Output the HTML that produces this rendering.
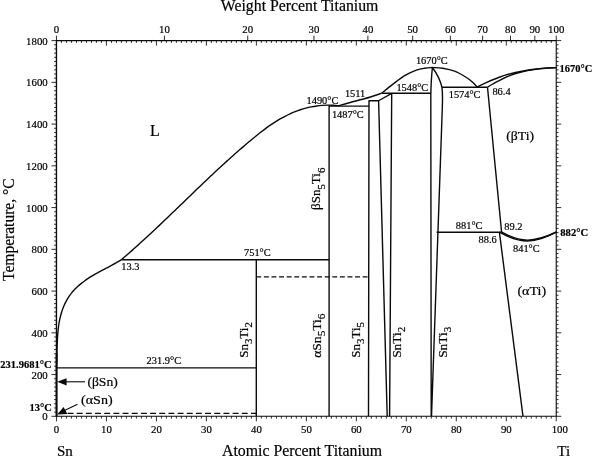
<!DOCTYPE html>
<html lang="en"><head><meta charset="utf-8"><title>Sn-Ti Phase Diagram</title>
<style>html,body{margin:0;padding:0;background:#fff;overflow:hidden}svg{display:block}text{font-family:"Liberation Serif","DejaVu Serif",serif;fill:#000;stroke:#000;stroke-width:0.2px}</style>
</head><body>
<svg width="592" height="457" viewBox="0 0 592 457">
<rect width="592" height="457" fill="#fff"/>
<g stroke="#0a0a0a" fill="none">
<path d="M56.45 40.10V416.80" stroke-width="1.35"/>
<path d="M56.60 353.68V416.80" stroke-width="1.9"/>
<path d="M56.45 40.60H556.25V416.30H56.45" stroke-width="1.1"/>
<path d="M56.45 416.30v5.00M61.45 416.30v2.30M61.45 40.60v2.30M66.45 416.30v2.30M66.45 40.60v2.30M71.44 416.30v2.30M71.44 40.60v2.30M76.44 416.30v2.30M76.44 40.60v2.30M81.44 416.30v2.30M81.44 40.60v2.30M86.44 416.30v2.30M86.44 40.60v2.30M91.44 416.30v2.30M91.44 40.60v2.30M96.43 416.30v2.30M96.43 40.60v2.30M101.43 416.30v2.30M101.43 40.60v2.30M106.43 416.30v5.00M106.43 40.60v5.00M111.43 416.30v2.30M111.43 40.60v2.30M116.43 416.30v2.30M116.43 40.60v2.30M121.42 416.30v2.30M121.42 40.60v2.30M126.42 416.30v2.30M126.42 40.60v2.30M131.42 416.30v2.30M131.42 40.60v2.30M136.42 416.30v2.30M136.42 40.60v2.30M141.42 416.30v2.30M141.42 40.60v2.30M146.41 416.30v2.30M146.41 40.60v2.30M151.41 416.30v2.30M151.41 40.60v2.30M156.41 416.30v5.00M156.41 40.60v5.00M161.41 416.30v2.30M161.41 40.60v2.30M166.41 416.30v2.30M166.41 40.60v2.30M171.40 416.30v2.30M171.40 40.60v2.30M176.40 416.30v2.30M176.40 40.60v2.30M181.40 416.30v2.30M181.40 40.60v2.30M186.40 416.30v2.30M186.40 40.60v2.30M191.40 416.30v2.30M191.40 40.60v2.30M196.39 416.30v2.30M196.39 40.60v2.30M201.39 416.30v2.30M201.39 40.60v2.30M206.39 416.30v5.00M206.39 40.60v5.00M211.39 416.30v2.30M211.39 40.60v2.30M216.39 416.30v2.30M216.39 40.60v2.30M221.38 416.30v2.30M221.38 40.60v2.30M226.38 416.30v2.30M226.38 40.60v2.30M231.38 416.30v2.30M231.38 40.60v2.30M236.38 416.30v2.30M236.38 40.60v2.30M241.38 416.30v2.30M241.38 40.60v2.30M246.37 416.30v2.30M246.37 40.60v2.30M251.37 416.30v2.30M251.37 40.60v2.30M256.37 416.30v5.00M256.37 40.60v5.00M261.37 416.30v2.30M261.37 40.60v2.30M266.37 416.30v2.30M266.37 40.60v2.30M271.36 416.30v2.30M271.36 40.60v2.30M276.36 416.30v2.30M276.36 40.60v2.30M281.36 416.30v2.30M281.36 40.60v2.30M286.36 416.30v2.30M286.36 40.60v2.30M291.36 416.30v2.30M291.36 40.60v2.30M296.35 416.30v2.30M296.35 40.60v2.30M301.35 416.30v2.30M301.35 40.60v2.30M306.35 416.30v5.00M306.35 40.60v5.00M311.35 416.30v2.30M311.35 40.60v2.30M316.35 416.30v2.30M316.35 40.60v2.30M321.34 416.30v2.30M321.34 40.60v2.30M326.34 416.30v2.30M326.34 40.60v2.30M331.34 416.30v2.30M331.34 40.60v2.30M336.34 416.30v2.30M336.34 40.60v2.30M341.34 416.30v2.30M341.34 40.60v2.30M346.33 416.30v2.30M346.33 40.60v2.30M351.33 416.30v2.30M351.33 40.60v2.30M356.33 416.30v5.00M356.33 40.60v5.00M361.33 416.30v2.30M361.33 40.60v2.30M366.33 416.30v2.30M366.33 40.60v2.30M371.32 416.30v2.30M371.32 40.60v2.30M376.32 416.30v2.30M376.32 40.60v2.30M381.32 416.30v2.30M381.32 40.60v2.30M386.32 416.30v2.30M386.32 40.60v2.30M391.32 416.30v2.30M391.32 40.60v2.30M396.31 416.30v2.30M396.31 40.60v2.30M401.31 416.30v2.30M401.31 40.60v2.30M406.31 416.30v5.00M406.31 40.60v5.00M411.31 416.30v2.30M411.31 40.60v2.30M416.31 416.30v2.30M416.31 40.60v2.30M421.30 416.30v2.30M421.30 40.60v2.30M426.30 416.30v2.30M426.30 40.60v2.30M431.30 416.30v2.30M431.30 40.60v2.30M436.30 416.30v2.30M436.30 40.60v2.30M441.30 416.30v2.30M441.30 40.60v2.30M446.29 416.30v2.30M446.29 40.60v2.30M451.29 416.30v2.30M451.29 40.60v2.30M456.29 416.30v5.00M456.29 40.60v5.00M461.29 416.30v2.30M461.29 40.60v2.30M466.29 416.30v2.30M466.29 40.60v2.30M471.28 416.30v2.30M471.28 40.60v2.30M476.28 416.30v2.30M476.28 40.60v2.30M481.28 416.30v2.30M481.28 40.60v2.30M486.28 416.30v2.30M486.28 40.60v2.30M491.28 416.30v2.30M491.28 40.60v2.30M496.27 416.30v2.30M496.27 40.60v2.30M501.27 416.30v2.30M501.27 40.60v2.30M506.27 416.30v5.00M506.27 40.60v5.00M511.27 416.30v2.30M511.27 40.60v2.30M516.27 416.30v2.30M516.27 40.60v2.30M521.26 416.30v2.30M521.26 40.60v2.30M526.26 416.30v2.30M526.26 40.60v2.30M531.26 416.30v2.30M531.26 40.60v2.30M536.26 416.30v2.30M536.26 40.60v2.30M541.26 416.30v2.30M541.26 40.60v2.30M546.25 416.30v2.30M546.25 40.60v2.30M551.25 416.30v2.30M551.25 40.60v2.30M556.25 416.30v5.00M56.45 40.60v-5.00M164.42 40.60v-5.00M247.73 40.60v-5.00M313.96 40.60v-5.00M367.88 40.60v-5.00M412.63 40.60v-5.00M450.36 40.60v-5.00M482.61 40.60v-5.00M510.48 40.60v-5.00M534.82 40.60v-5.00M556.25 40.60v-5.00M56.45 416.30h-5.00M556.25 416.30h5.00M56.45 412.13h-2.30M556.25 412.13h2.30M56.45 407.95h-2.30M556.25 407.95h2.30M56.45 403.78h-2.30M556.25 403.78h2.30M56.45 399.60h-2.30M556.25 399.60h2.30M56.45 395.43h-2.30M556.25 395.43h2.30M56.45 391.25h-2.30M556.25 391.25h2.30M56.45 387.08h-2.30M556.25 387.08h2.30M56.45 382.90h-2.30M556.25 382.90h2.30M56.45 378.73h-2.30M556.25 378.73h2.30M56.45 374.56h-5.00M556.25 374.56h5.00M56.45 370.38h-2.30M556.25 370.38h2.30M56.45 366.21h-2.30M556.25 366.21h2.30M56.45 362.03h-2.30M556.25 362.03h2.30M56.45 357.86h-2.30M556.25 357.86h2.30M56.45 353.68h-2.30M556.25 353.68h2.30M56.45 349.51h-2.30M556.25 349.51h2.30M56.45 345.33h-2.30M556.25 345.33h2.30M56.45 341.16h-2.30M556.25 341.16h2.30M56.45 336.99h-2.30M556.25 336.99h2.30M56.45 332.81h-5.00M556.25 332.81h5.00M56.45 328.64h-2.30M556.25 328.64h2.30M56.45 324.46h-2.30M556.25 324.46h2.30M56.45 320.29h-2.30M556.25 320.29h2.30M56.45 316.11h-2.30M556.25 316.11h2.30M56.45 311.94h-2.30M556.25 311.94h2.30M56.45 307.76h-2.30M556.25 307.76h2.30M56.45 303.59h-2.30M556.25 303.59h2.30M56.45 299.42h-2.30M556.25 299.42h2.30M56.45 295.24h-2.30M556.25 295.24h2.30M56.45 291.07h-5.00M556.25 291.07h5.00M56.45 286.89h-2.30M556.25 286.89h2.30M56.45 282.72h-2.30M556.25 282.72h2.30M56.45 278.54h-2.30M556.25 278.54h2.30M56.45 274.37h-2.30M556.25 274.37h2.30M56.45 270.19h-2.30M556.25 270.19h2.30M56.45 266.02h-2.30M556.25 266.02h2.30M56.45 261.85h-2.30M556.25 261.85h2.30M56.45 257.67h-2.30M556.25 257.67h2.30M56.45 253.50h-2.30M556.25 253.50h2.30M56.45 249.32h-5.00M556.25 249.32h5.00M56.45 245.15h-2.30M556.25 245.15h2.30M56.45 240.97h-2.30M556.25 240.97h2.30M56.45 236.80h-2.30M556.25 236.80h2.30M56.45 232.62h-2.30M556.25 232.62h2.30M56.45 228.45h-2.30M556.25 228.45h2.30M56.45 224.28h-2.30M556.25 224.28h2.30M56.45 220.10h-2.30M556.25 220.10h2.30M56.45 215.93h-2.30M556.25 215.93h2.30M56.45 211.75h-2.30M556.25 211.75h2.30M56.45 207.58h-5.00M556.25 207.58h5.00M56.45 203.40h-2.30M556.25 203.40h2.30M56.45 199.23h-2.30M556.25 199.23h2.30M56.45 195.05h-2.30M556.25 195.05h2.30M56.45 190.88h-2.30M556.25 190.88h2.30M56.45 186.71h-2.30M556.25 186.71h2.30M56.45 182.53h-2.30M556.25 182.53h2.30M56.45 178.36h-2.30M556.25 178.36h2.30M56.45 174.18h-2.30M556.25 174.18h2.30M56.45 170.01h-2.30M556.25 170.01h2.30M56.45 165.83h-5.00M556.25 165.83h5.00M56.45 161.66h-2.30M556.25 161.66h2.30M56.45 157.48h-2.30M556.25 157.48h2.30M56.45 153.31h-2.30M556.25 153.31h2.30M56.45 149.14h-2.30M556.25 149.14h2.30M56.45 144.96h-2.30M556.25 144.96h2.30M56.45 140.79h-2.30M556.25 140.79h2.30M56.45 136.61h-2.30M556.25 136.61h2.30M56.45 132.44h-2.30M556.25 132.44h2.30M56.45 128.26h-2.30M556.25 128.26h2.30M56.45 124.09h-5.00M556.25 124.09h5.00M56.45 119.91h-2.30M556.25 119.91h2.30M56.45 115.74h-2.30M556.25 115.74h2.30M56.45 111.57h-2.30M556.25 111.57h2.30M56.45 107.39h-2.30M556.25 107.39h2.30M56.45 103.22h-2.30M556.25 103.22h2.30M56.45 99.04h-2.30M556.25 99.04h2.30M56.45 94.87h-2.30M556.25 94.87h2.30M56.45 90.69h-2.30M556.25 90.69h2.30M56.45 86.52h-2.30M556.25 86.52h2.30M56.45 82.34h-5.00M556.25 82.34h5.00M56.45 78.17h-2.30M556.25 78.17h2.30M56.45 74.00h-2.30M556.25 74.00h2.30M56.45 69.82h-2.30M556.25 69.82h2.30M56.45 65.65h-2.30M556.25 65.65h2.30M56.45 61.47h-2.30M556.25 61.47h2.30M56.45 57.30h-2.30M556.25 57.30h2.30M56.45 53.12h-2.30M556.25 53.12h2.30M56.45 48.95h-2.30M556.25 48.95h2.30M56.45 44.77h-2.30M556.25 44.77h2.30M56.45 40.60h-5.00M556.25 40.60h5.00" stroke-width="0.85"/>
</g>
<g stroke="#0a0a0a" stroke-width="1.40" fill="none" stroke-linejoin="round">
<path d="M56.50 367.90C56.53 367.32 56.63 365.61 56.69 364.46C56.74 363.31 56.78 362.15 56.82 360.98C56.86 359.81 56.89 358.64 56.92 357.47C56.94 356.29 56.97 355.11 56.99 353.92C57.02 352.74 57.04 351.55 57.06 350.36C57.09 349.17 57.11 347.97 57.14 346.78C57.17 345.58 57.21 344.38 57.25 343.18C57.29 341.99 57.34 340.79 57.40 339.59C57.46 338.39 57.52 337.19 57.60 335.99C57.68 334.79 57.77 333.59 57.88 332.40C57.99 331.20 58.10 330.01 58.24 328.82C58.38 327.63 58.53 326.44 58.71 325.26C58.89 324.07 59.08 322.89 59.30 321.72C59.51 320.54 59.75 319.37 60.02 318.21C60.28 317.05 60.57 315.89 60.88 314.74C61.20 313.60 61.53 312.46 61.90 311.33C62.27 310.20 62.66 309.09 63.08 307.99C63.50 306.89 63.95 305.80 64.43 304.73C64.91 303.66 65.42 302.61 65.96 301.58C66.50 300.54 67.06 299.53 67.67 298.54C68.27 297.55 68.90 296.58 69.57 295.63C70.23 294.69 70.93 293.77 71.66 292.87C72.39 291.97 73.15 291.10 73.93 290.25C74.71 289.39 75.53 288.56 76.36 287.75C77.20 286.94 78.06 286.14 78.94 285.37C79.82 284.60 80.73 283.85 81.65 283.11C82.57 282.37 83.52 281.66 84.47 280.96C85.43 280.26 86.41 279.57 87.40 278.90C88.39 278.23 89.39 277.58 90.41 276.94C91.42 276.30 92.45 275.68 93.48 275.07C94.52 274.46 95.56 273.86 96.61 273.27C97.66 272.69 98.72 272.12 99.78 271.55C100.83 270.98 101.90 270.43 102.96 269.87C104.02 269.32 105.09 268.77 106.15 268.22C107.21 267.67 108.27 267.13 109.32 266.57C110.37 266.02 111.42 265.47 112.46 264.91C113.49 264.35 114.53 263.79 115.54 263.21C116.56 262.63 117.57 262.05 118.56 261.45C119.56 260.84 121.01 259.91 121.50 259.60"/>
<path d="M121.50 259.60C122.21 258.99 124.33 257.18 125.74 255.96C127.15 254.74 128.55 253.52 129.95 252.29C131.35 251.06 132.75 249.82 134.14 248.59C135.53 247.35 136.91 246.10 138.30 244.86C139.68 243.61 141.06 242.36 142.43 241.10C143.81 239.85 145.18 238.59 146.55 237.32C147.92 236.06 149.28 234.79 150.64 233.53C152.01 232.26 153.37 230.98 154.72 229.71C156.08 228.43 157.43 227.15 158.79 225.87C160.14 224.59 161.49 223.31 162.84 222.03C164.19 220.74 165.53 219.46 166.88 218.17C168.22 216.88 169.57 215.59 170.91 214.30C172.25 213.01 173.60 211.72 174.94 210.43C176.28 209.13 177.62 207.84 178.96 206.55C180.30 205.25 181.64 203.96 182.98 202.67C184.32 201.37 185.66 200.08 187.00 198.78C188.34 197.49 189.68 196.20 191.02 194.90C192.36 193.61 193.70 192.32 195.04 191.03C196.38 189.74 197.73 188.45 199.07 187.16C200.42 185.87 201.76 184.58 203.11 183.30C204.46 182.01 205.81 180.73 207.16 179.45C208.51 178.17 209.86 176.89 211.22 175.61C212.58 174.34 213.93 173.06 215.30 171.79C216.66 170.52 218.02 169.26 219.39 167.99C220.75 166.73 222.12 165.47 223.50 164.21C224.87 162.95 226.25 161.70 227.63 160.45C229.01 159.20 230.39 157.96 231.78 156.72C233.17 155.48 234.56 154.24 235.96 153.01C237.36 151.78 238.76 150.56 240.17 149.34C241.57 148.11 242.99 146.90 244.40 145.69C245.82 144.48 247.24 143.28 248.67 142.08C250.10 140.88 251.53 139.69 252.97 138.50C254.41 137.32 255.85 136.14 257.30 134.97C258.76 133.80 260.22 132.64 261.69 131.50C263.16 130.36 264.64 129.24 266.14 128.14C267.64 127.03 269.15 125.95 270.68 124.90C272.21 123.84 273.76 122.81 275.33 121.82C276.90 120.82 278.48 119.86 280.09 118.93C281.70 118.01 283.33 117.11 284.99 116.26C286.64 115.42 288.32 114.60 290.01 113.84C291.70 113.07 293.42 112.35 295.15 111.67C296.88 111.00 298.63 110.36 300.39 109.78C302.16 109.20 303.94 108.67 305.74 108.19C307.53 107.71 309.35 107.28 311.17 106.91C312.99 106.54 314.83 106.22 316.67 105.96C318.52 105.70 320.37 105.49 322.23 105.35C324.09 105.20 325.96 105.12 327.82 105.09C329.69 105.07 331.56 105.10 333.44 105.21C335.31 105.31 338.11 105.62 339.05 105.70"/>
<path d="M339.05 105.70C340.91 105.17 346.66 103.48 350.20 102.50C353.74 101.52 356.92 100.72 360.30 99.80C363.68 98.88 366.92 98.10 370.50 97.00C374.08 95.90 379.92 93.83 381.80 93.20"/>
<path d="M381.80 93.20C383.62 91.73 388.90 87.32 392.70 84.40C396.50 81.48 400.65 78.07 404.60 75.70C408.55 73.33 413.05 71.45 416.40 70.20C419.75 68.95 422.03 68.65 424.70 68.20C427.37 67.75 431.12 67.62 432.40 67.50"/>
<path d="M432.40 67.50C434.12 67.62 439.00 67.58 442.70 68.20C446.40 68.82 450.65 69.65 454.60 71.20C458.55 72.75 463.45 75.70 466.40 77.50C469.35 79.30 470.50 80.42 472.30 82.00C474.10 83.58 476.38 86.17 477.20 87.00"/>
<path d="M477.20 87.00C478.80 86.23 483.23 83.98 486.80 82.40C490.37 80.82 494.65 78.95 498.60 77.50C502.55 76.05 506.55 74.75 510.50 73.70C514.45 72.65 518.38 71.93 522.30 71.20C526.22 70.47 530.12 69.82 534.00 69.30C537.88 68.78 541.87 68.38 545.60 68.10C549.33 67.82 554.60 67.68 556.40 67.60"/>
<path d="M487.50 87.20C488.37 86.67 490.85 85.07 492.70 84.00C494.55 82.93 495.63 82.25 498.60 80.80C501.57 79.35 506.55 76.80 510.50 75.30C514.45 73.80 518.38 72.75 522.30 71.80C526.22 70.85 530.12 70.20 534.00 69.60C537.88 69.00 541.87 68.53 545.60 68.20C549.33 67.87 554.60 67.70 556.40 67.60"/>
<path d="M56.45 367.90H256.30M256.3 416.30V259.70M121.5 259.70H329.1M329.1 416.30V105.3M329.1 106.1H369M368.5 416.30L369 100.75H378.6M387.2 416.30L378.6 100.75L391.7 93.4M389.6 416.30L391.7 93.2M381.8 93.2H430.7M432.4 67.5C431.6 75 431 85 430.8 95L431.2 416.30M432.4 67.5C435 71 440 79 441.9 87.2C442.6 92 442.6 100 442.3 108L431.5 416.30M441.9 87.2H487.5M487.5 87.2L501.6 232.2M499.4 232.2L523 416.30M436.6 232.2H502"/>
<path d="M499.4 232.2C509 237.6 518 241.0 527.5 241.0C538 241.0 548 236.8 556.4 232"/>
<path d="M501.8 232.2C511 237.2 520 240.1 527.5 240.1C538 240.1 548 236.0 556.4 232"/>
<path d="M256.3 276.9H369" stroke-dasharray="4.9 2.7"/>
<path d="M58.4 413.4H256.3" stroke-dasharray="5.9 3.27"/>
<path d="M85 381.8H65" stroke-width="1.1"/>
<path d="M77.5 404.2L64 410.8" stroke-width="1.1"/>
</g>
<path d="M57.2 381.8L66.6 378.2V385.4Z" fill="#0a0a0a"/>
<path d="M57.4 414.5L63.5 406.9L67.4 413.9Z" fill="#0a0a0a"/>
<text x="299.6" y="11.2" font-size="16" text-anchor="middle" textLength="157.6" lengthAdjust="spacingAndGlyphs">Weight Percent Titanium</text>
<text x="56.5" y="32.8" font-size="10.8" text-anchor="middle">0</text>
<text x="164.4" y="32.8" font-size="10.8" text-anchor="middle">10</text>
<text x="247.7" y="32.8" font-size="10.8" text-anchor="middle">20</text>
<text x="314.0" y="32.8" font-size="10.8" text-anchor="middle">30</text>
<text x="367.9" y="32.8" font-size="10.8" text-anchor="middle">40</text>
<text x="412.6" y="32.8" font-size="10.8" text-anchor="middle">50</text>
<text x="450.4" y="32.8" font-size="10.8" text-anchor="middle">60</text>
<text x="482.6" y="32.8" font-size="10.8" text-anchor="middle">70</text>
<text x="510.5" y="32.8" font-size="10.8" text-anchor="middle">80</text>
<text x="534.8" y="32.8" font-size="10.8" text-anchor="middle">90</text>
<text x="556.2" y="32.8" font-size="10.8" text-anchor="middle">100</text>
<text x="56.5" y="433.4" font-size="10.8" text-anchor="middle">0</text>
<text x="106.4" y="433.4" font-size="10.8" text-anchor="middle">10</text>
<text x="156.4" y="433.4" font-size="10.8" text-anchor="middle">20</text>
<text x="206.4" y="433.4" font-size="10.8" text-anchor="middle">30</text>
<text x="256.4" y="433.4" font-size="10.8" text-anchor="middle">40</text>
<text x="306.4" y="433.4" font-size="10.8" text-anchor="middle">50</text>
<text x="356.3" y="433.4" font-size="10.8" text-anchor="middle">60</text>
<text x="406.3" y="433.4" font-size="10.8" text-anchor="middle">70</text>
<text x="456.3" y="433.4" font-size="10.8" text-anchor="middle">80</text>
<text x="506.3" y="433.4" font-size="10.8" text-anchor="middle">90</text>
<text x="559.8" y="433.4" font-size="10.8" text-anchor="middle">100</text>
<text x="47.7" y="420.3" font-size="10.8" text-anchor="end">0</text>
<text x="47.7" y="378.6" font-size="10.8" text-anchor="end">200</text>
<text x="47.7" y="336.8" font-size="10.8" text-anchor="end">400</text>
<text x="47.7" y="295.1" font-size="10.8" text-anchor="end">600</text>
<text x="47.7" y="253.3" font-size="10.8" text-anchor="end">800</text>
<text x="47.7" y="211.6" font-size="10.8" text-anchor="end">1000</text>
<text x="47.7" y="169.8" font-size="10.8" text-anchor="end">1200</text>
<text x="47.7" y="128.1" font-size="10.8" text-anchor="end">1400</text>
<text x="47.7" y="86.3" font-size="10.8" text-anchor="end">1600</text>
<text x="47.7" y="44.6" font-size="10.8" text-anchor="end">1800</text>
<text x="56.9" y="455.5" font-size="15" text-anchor="start">Sn</text>
<text x="302.0" y="455.6" font-size="16" text-anchor="middle" textLength="160.0" lengthAdjust="spacingAndGlyphs">Atomic Percent Titanium</text>
<text x="557.3" y="455.7" font-size="15" text-anchor="start">Ti</text>
<text transform="translate(13.5 229.7) rotate(-90)" font-size="16" text-anchor="middle" textLength="102.6" lengthAdjust="spacingAndGlyphs">Temperature, °C</text>
<text x="150.0" y="135.7" font-size="16" text-anchor="start">L</text>
<text x="306.5" y="103.7" font-size="10.4" text-anchor="start">1490°C</text>
<text x="344.9" y="96.6" font-size="10.4" text-anchor="start">1511</text>
<text x="331.9" y="117.5" font-size="10.4" text-anchor="start">1487°C</text>
<text x="396.4" y="90.5" font-size="10.4" text-anchor="start">1548°C</text>
<text x="415.9" y="64.2" font-size="10.4" text-anchor="start">1670°C</text>
<text x="448.7" y="98.2" font-size="10.4" text-anchor="start">1574°C</text>
<text x="492.4" y="94.6" font-size="10.4" text-anchor="start">86.4</text>
<text x="506.3" y="140.4" font-size="13" text-anchor="start" textLength="27.8" lengthAdjust="spacingAndGlyphs">(βTi)</text>
<text x="517.4" y="295.0" font-size="13" text-anchor="start" textLength="28.8" lengthAdjust="spacingAndGlyphs">(αTi)</text>
<text x="455.8" y="228.6" font-size="10.4" text-anchor="start">881°C</text>
<text x="504.3" y="230.0" font-size="10.4" text-anchor="start">89.2</text>
<text x="478.6" y="242.6" font-size="10.4" text-anchor="start">88.6</text>
<text x="513.0" y="252.0" font-size="10.4" text-anchor="start">841°C</text>
<text x="244.0" y="255.9" font-size="10.4" text-anchor="start">751°C</text>
<text x="121.3" y="270.3" font-size="10.4" text-anchor="start">13.3</text>
<text x="146.6" y="363.8" font-size="10.4" text-anchor="start">231.9°C</text>
<text x="87.4" y="386.3" font-size="13.5" text-anchor="start" textLength="30.4" lengthAdjust="spacingAndGlyphs">(βSn)</text>
<text x="81.0" y="403.6" font-size="13.5" text-anchor="start" textLength="31.6" lengthAdjust="spacingAndGlyphs">(αSn)</text>
<text x="51.7" y="367.6" font-size="11" text-anchor="end" textLength="51.4" lengthAdjust="spacingAndGlyphs" font-weight="bold" stroke="none">231.9681°C</text>
<text x="51.9" y="410.9" font-size="11" text-anchor="end" textLength="22.3" lengthAdjust="spacingAndGlyphs" font-weight="bold" stroke="none">13°C</text>
<text x="559.6" y="71.9" font-size="11" text-anchor="start" textLength="32.6" lengthAdjust="spacingAndGlyphs" font-weight="bold" stroke="none">1670°C</text>
<text x="560.3" y="235.7" font-size="11" text-anchor="start" textLength="27.9" lengthAdjust="spacingAndGlyphs" font-weight="bold" stroke="none">882°C</text>
<text transform="translate(247.5 357.8) rotate(-90)" font-size="13.5" textLength="35.6" lengthAdjust="spacingAndGlyphs">Sn<tspan dy="4.2" font-size="11.2">3</tspan><tspan dy="-4.2">Ti</tspan><tspan dy="4.2" font-size="11.2">2</tspan><tspan dy="-4.2"></tspan></text>
<text transform="translate(321.1 357.8) rotate(-90)" font-size="13.5" textLength="44.3" lengthAdjust="spacingAndGlyphs">αSn<tspan dy="4.2" font-size="11.2">5</tspan><tspan dy="-4.2">Ti</tspan><tspan dy="4.2" font-size="11.2">6</tspan><tspan dy="-4.2"></tspan></text>
<text transform="translate(320.3 210.0) rotate(-90)" font-size="13.5" textLength="42.4" lengthAdjust="spacingAndGlyphs">βSn<tspan dy="4.2" font-size="11.2">5</tspan><tspan dy="-4.2">Ti</tspan><tspan dy="4.2" font-size="11.2">6</tspan><tspan dy="-4.2"></tspan></text>
<text transform="translate(359.7 357.8) rotate(-90)" font-size="13.5" textLength="35.8" lengthAdjust="spacingAndGlyphs">Sn<tspan dy="4.2" font-size="11.2">3</tspan><tspan dy="-4.2">Ti</tspan><tspan dy="4.2" font-size="11.2">5</tspan><tspan dy="-4.2"></tspan></text>
<text transform="translate(400.6 357.8) rotate(-90)" font-size="13.5" textLength="31.0" lengthAdjust="spacingAndGlyphs">SnTi<tspan dy="4.2" font-size="11.2">2</tspan><tspan dy="-4.2"></tspan></text>
<text transform="translate(446.7 357.8) rotate(-90)" font-size="13.5" textLength="31.0" lengthAdjust="spacingAndGlyphs">SnTi<tspan dy="4.2" font-size="11.2">3</tspan><tspan dy="-4.2"></tspan></text>
</svg></body></html>
